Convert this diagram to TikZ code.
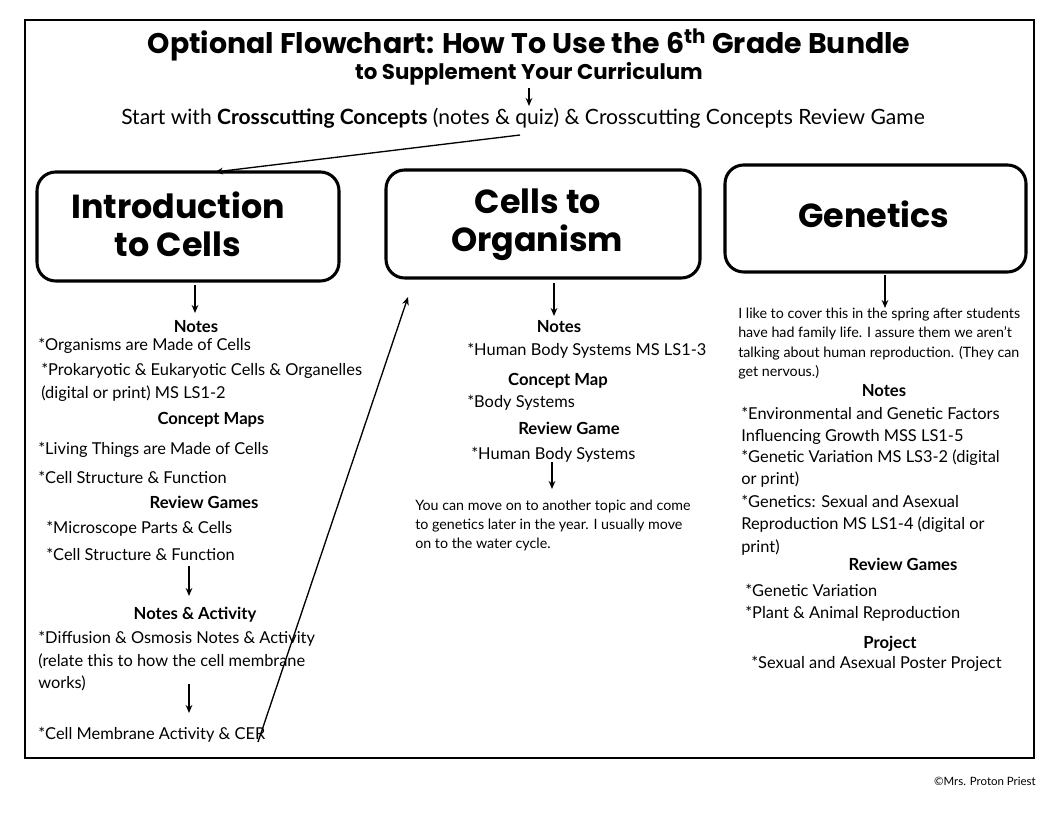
\documentclass[tikz,border=0pt]{standalone}
\usepackage{fontspec}
\setmainfont{Lato}
\newfontfamily\headfont{Poppins}
\usetikzlibrary{arrows.meta,fit}
\begin{document}
\begin{tikzpicture}[x=0.75pt,y=-0.75pt,
  body/.style={anchor=base west, inner sep=0, font=\fontsize{12.3}{15}\selectfont},
  smalltxt/.style={anchor=base west, inner sep=0, font=\fontsize{10.7}{13}\selectfont},
  head/.style={anchor=base, inner sep=0, font=\bfseries\fontsize{12.5}{15}\selectfont},
  topic/.style={draw, line width=2.3pt, rounded corners=14pt, inner sep=0},
  toptxt/.style={anchor=base, inner sep=0, font=\headfont\bfseries\fontsize{25}{30}\selectfont},
  arr/.style={-{Stealth[length=6pt,width=5pt]}, line width=1pt},
]
\useasboundingbox (0,0) rectangle (1056,816);
\draw[line width=1.6pt] (25,20) rectangle (1034,758);

% title
\node[anchor=base, inner sep=0, font=\headfont\bfseries\fontsize{21.3}{25}\selectfont] (title) at (529,54) {Optional Flowchart: How To Use the 6\textsuperscript{th} Grade Bundle};
\node[anchor=base, inner sep=0, font=\headfont\bfseries\fontsize{16}{19}\selectfont] (subtitle) at (529,80) {to Supplement Your Curriculum};
\node[anchor=base, inner sep=0, font=\fontsize{15.8}{19}\selectfont] (start) at (523,125) {Start with \textbf{Crosscutting Concepts} (notes \& quiz) \& Crosscutting Concepts Review Game};
\coordinate (a0s) at (529,88);
\coordinate (a0e) at (529,106);
\draw[arr] (a0s) -- (a0e);

% topic boxes
\node[topic, fit={(37,172)(339,281)}] (b1) {};
\node[topic, fit={(386,170)(700,278)}] (b2) {};
\node[topic, fit={(725,165)(1026,272)}] (b3) {};
\node[toptxt] (b1a) at (178,219) {Introduction};
\node[toptxt] (b1b) at (178,257) {to Cells};
\node[toptxt] (b2a) at (538,214) {Cells to};
\node[toptxt] (b2b) at (537,252) {Organism};
\node[toptxt] (b3a) at (874,228) {Genetics};

\coordinate (a1s) at (520,135);
\draw[arr] (a1s) -- (215,172);

% left column
\coordinate (a1bs) at (195,285);
\coordinate (a1be) at (195,313);
\draw[arr] (a1bs) -- (a1be);
\node[head] (l1) at (196,333) {Notes};
\node[body] (l2) at (38,351) {*Organisms are Made of Cells};
\node[body] (l3) at (41,376) {*Prokaryotic \& Eukaryotic Cells \& Organelles};
\node[body] (l4) at (41,398) {(digital or print) MS LS1-2};
\node[head] (l5) at (211,424) {Concept Maps};
\node[body] (l6) at (38,454) {*Living Things are Made of Cells};
\node[body] (l7) at (38,483) {*Cell Structure \& Function};
\node[head] (l8) at (204,508) {Review Games};
\node[body] (l9) at (46,533) {*Microscope Parts \& Cells};
\node[body] (l10) at (46,560) {*Cell Structure \& Function};
\coordinate (a2s) at (189,566);
\coordinate (a2e) at (189,596);
\draw[arr] (a2s) -- (a2e);
\node[head] (l11) at (195,619) {Notes \& Activity};
\node[body] (l12) at (38,643) {*Diffusion \& Osmosis Notes \& Activity};
\node[body] (l13) at (38,666) {(relate this to how the cell membrane};
\node[body] (l14) at (38,688) {works)};
\coordinate (a3s) at (189,684);
\coordinate (a3e) at (189,713);
\draw[arr] (a3s) -- (a3e);
\node[body] (l15) at (38,739) {*Cell Membrane Activity \& CER};
\coordinate (a4s) at (258,742);
\coordinate (a4e) at (408,297);
\draw[arr] (a4s) -- (a4e);

% middle column
\coordinate (a5s) at (554,283);
\coordinate (a5e) at (554,316);
\draw[arr] (a5s) -- (a5e);
\node[head] (m1) at (559,333) {Notes};
\node[body] (m2) at (467,355) {*Human Body Systems MS LS1-3};
\node[head] (m3) at (558,385) {Concept Map};
\node[body] (m4) at (467,407) {*Body Systems};
\node[head] (m5) at (569,434) {Review Game};
\node[body] (m6) at (471,459) {*Human Body Systems};
\coordinate (a6s) at (552,462);
\coordinate (a6e) at (552,489);
\draw[arr] (a6s) -- (a6e);
\node[smalltxt] (m7) at (415,510) {You can move on to another topic and come};
\node[smalltxt] (m8) at (415,529) {to genetics later in the year. I usually move};
\node[smalltxt] (m9) at (415,548) {on to the water cycle.};

% right column
\coordinate (a7s) at (885,275);
\coordinate (a7e) at (885,308);
\draw[arr] (a7s) -- (a7e);
\node[smalltxt] (r1) at (738,319) {I like to cover this in the spring after students};
\node[smalltxt] (r2) at (738,338) {have had family life. I assure them we aren't};
\node[smalltxt] (r3) at (738,358) {talking about human reproduction. (They can};
\node[smalltxt] (r4) at (738,377) {get nervous.)};
\node[head] (r5) at (884,397) {Notes};
\node[body] (r6) at (741,419) {*Environmental and Genetic Factors};
\node[body] (r7) at (741,441) {Influencing Growth MSS LS1-5};
\node[body] (r8) at (741,462) {*Genetic Variation MS LS3-2 (digital};
\node[body] (r9) at (741,484) {or print)};
\node[body] (r10) at (741,507) {*Genetics: Sexual and Asexual};
\node[body] (r11) at (741,529) {Reproduction MS LS1-4 (digital or};
\node[body] (r12) at (741,552) {print)};
\node[head] (r13) at (903,570) {Review Games};
\node[body] (r14) at (745,596) {*Genetic Variation};
\node[body] (r15) at (745,618) {*Plant \& Animal Reproduction};
\node[head] (r16) at (890,648) {Project};
\node[body] (r17) at (751,668) {*Sexual and Asexual Poster Project};

\node[anchor=base east, inner sep=0, font=\fontsize{8.6}{10}\selectfont] (copy) at (1036,785) {©Mrs. Proton Priest};
\end{tikzpicture}
\end{document}
